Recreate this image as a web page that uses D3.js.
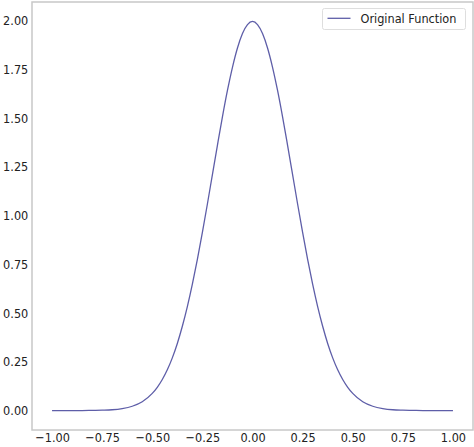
<!DOCTYPE html>
<html>
<head>
<meta charset="utf-8">
<script src="https://cdn.jsdelivr.net/npm/d3@7"></script>
<style>
  html, body { margin: 0; padding: 0; background: #fff; }
  text { font-family: "DejaVu Sans", sans-serif; fill: #222; }
</style>
</head>
<body>
<svg id="chart" width="474" height="447"></svg>
<script>
// Values
const xValues = [-1.0, -0.95, -0.9, -0.85, -0.8, -0.75, -0.7, -0.65, -0.6, -0.55, -0.5,
  -0.475, -0.45, -0.425, -0.4, -0.375, -0.35, -0.325, -0.3, -0.275, -0.25, -0.225, -0.2,
  -0.175, -0.15, -0.125, -0.1, -0.075, -0.05, -0.025, 0.0,
  0.025, 0.05, 0.075, 0.1, 0.125, 0.15, 0.175, 0.2, 0.225, 0.25, 0.275, 0.3, 0.325,
  0.35, 0.375, 0.4, 0.425, 0.45, 0.475, 0.5, 0.55, 0.6, 0.65, 0.7, 0.75, 0.8, 0.85,
  0.9, 0.95, 1.0];
const yValues = [0.000, 0.000, 0.000, 0.000, 0.001, 0.002, 0.004, 0.010, 0.022, 0.045, 0.088,
  0.119, 0.159, 0.209, 0.270, 0.344, 0.432, 0.533, 0.648, 0.775, 0.913, 1.059, 1.210,
  1.360, 1.506, 1.641, 1.760, 1.859, 1.933, 1.979, 1.995,
  1.979, 1.933, 1.859, 1.760, 1.641, 1.506, 1.360, 1.210, 1.059, 0.913, 0.775, 0.648, 0.533,
  0.432, 0.344, 0.270, 0.209, 0.159, 0.119, 0.088, 0.045, 0.022, 0.010, 0.004, 0.002, 0.001, 0.000,
  0.000, 0.000, 0.000];
const xTicks = [-1.0, -0.75, -0.5, -0.25, 0.0, 0.25, 0.5, 0.75, 1.0];
const yTicks = [0.0, 0.25, 0.5, 0.75, 1.0, 1.25, 1.5, 1.75, 2.0];
const seriesName = "Original Function";

(function () {
const svg = d3.select("#chart");
const mLeft = 32, mRight = 473, mTop = 2, mBottom = 430;
const squeeze = 0.87;   // glyphs in the reference are horizontally narrowed
const fontSize = 13;

const xMin = d3.min(xValues), xMax = d3.max(xValues);
const yMin = d3.min(yValues), yMax = d3.max(yValues);
const xPad = (xMax - xMin) * 0.05, yPad = (yMax - yMin) * 0.05;

const x = d3.scaleLinear().domain([xMin - xPad, xMax + xPad]).range([mLeft, mRight]);
const y = d3.scaleLinear().domain([yMin - yPad, yMax + yPad]).range([mBottom, mTop]);

const fmt = d3.format(".2f");

function narrow(sel) {
  sel.each(function () {
    const w = this.getComputedTextLength();
    d3.select(this).attr("textLength", w * squeeze).attr("lengthAdjust", "spacingAndGlyphs");
  });
}

// x axis
const xAxis = svg.append("g").attr("transform", `translate(0,${mBottom})`)
  .call(d3.axisBottom(x).tickValues(xTicks).tickFormat(fmt).tickSize(0).tickPadding(2.5));
xAxis.select(".domain").remove();
xAxis.selectAll("text").attr("font-size", fontSize).attr("font-family", "DejaVu Sans").attr("fill", "#222").call(narrow);

// y axis
const yAxis = svg.append("g").attr("transform", `translate(${mLeft},0)`)
  .call(d3.axisLeft(y).tickValues(yTicks).tickFormat(fmt).tickSize(0).tickPadding(3.7));
yAxis.select(".domain").remove();
yAxis.selectAll("text").attr("font-size", fontSize).attr("font-family", "DejaVu Sans").attr("fill", "#222").call(narrow);

// frame
svg.append("rect")
  .attr("x", mLeft).attr("y", mTop)
  .attr("width", mRight - mLeft).attr("height", mBottom - mTop)
  .attr("fill", "none").attr("stroke", "#c8c8c8").attr("stroke-width", 1.5);

// line
const data = xValues.map((v, i) => [v, yValues[i]]);
svg.append("path")
  .datum(data)
  .attr("fill", "none")
  .attr("stroke", "#5e5ea8")
  .attr("stroke-width", 1.3)
  .attr("d", d3.line().x(d => x(d[0])).y(d => y(d[1])).curve(d3.curveMonotoneX));

// legend
const lg = svg.append("g");
lg.append("rect")
  .attr("x", 322.5).attr("y", 8.5).attr("width", 143).attr("height", 21)
  .attr("rx", 2).attr("fill", "#fff").attr("fill-opacity", 0.8)
  .attr("stroke", "#dedede").attr("stroke-width", 1);
lg.append("line")
  .attr("x1", 327.5).attr("x2", 350.5).attr("y1", 18.3).attr("y2", 18.3)
  .attr("stroke", "#5e5ea8").attr("stroke-width", 1.3);
lg.append("text")
  .attr("x", 360.5).attr("y", 23)
  .attr("font-size", fontSize)
  .text(seriesName)
  .call(narrow);
})();
</script>
</body>
</html>
